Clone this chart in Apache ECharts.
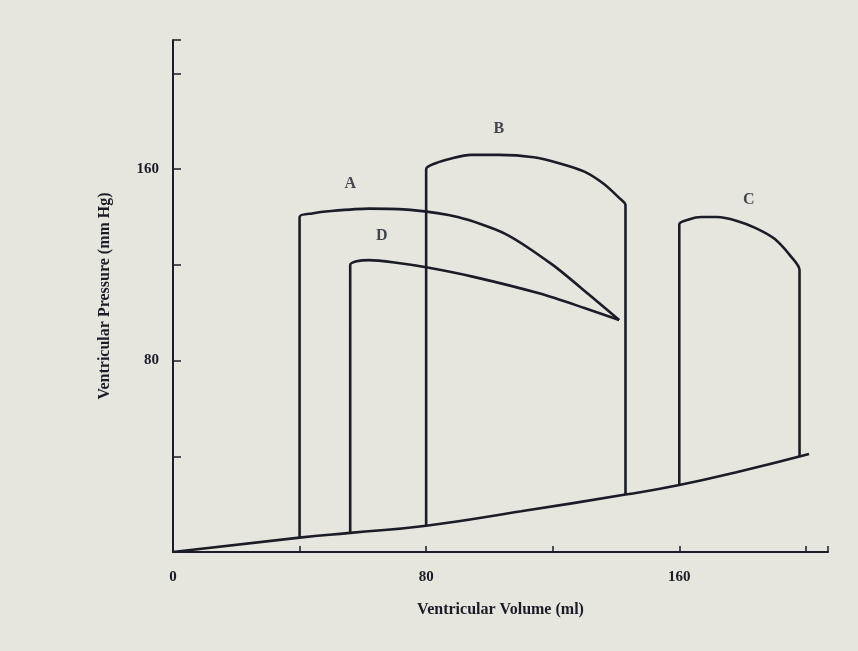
<!DOCTYPE html>
<html><head><meta charset="utf-8">
<script src="https://cdn.jsdelivr.net/npm/echarts@6/dist/echarts.min.js"></script>
<style>html,body{margin:0;background:#e6e6df}#c{width:858px;height:651px}</style>
</head><body><div id="c"></div>
<script>
const xTicks = [0, 80, 160];
const yTicks = [80, 160];
const baseline = [[0,0],[40,6],[56,8],[80,11],[110,17],[143,24],[160,28],[180,34],[201,41]];
const loopA = [[40,6],[40,140],[44,141.5],[50,142.5],[62,143.5],[75,143],[90,140],[105,133],[120,120],[132,107],[141,97]];
const loopD = [[56,8],[56,120],[58,121.5],[62,122],[70,121],[80,119],[95,115],[116,108],[130,102],[141,97]];
const loopB = [[80,11],[80,160],[83,162.5],[88,164.5],[94,166],[103,166],[114,165],[122,162.5],[130,159],[136,154],[141,148],[143,145],[143,24]];
const loopC = [[160,28],[160,137],[163,139],[167,140],[172,140],[178,138.5],[184,135.5],[190,131],[195,124],[198,118],[198,40]];
const labels = [["A",56,154],["B",103,177],["C",182,147],["D",66,132]];
const ink = '#1c1c28';
const mk = (d, smooth) => ({type:'line', data:d, showSymbol:false, smooth:smooth, lineStyle:{color:ink, width:2.6}, silent:true});
const chart = echarts.init(document.getElementById('c'));
chart.setOption({
  backgroundColor:'#e6e6df', animation:false,
  grid:{left:173, right:30, top:40, bottom:99},
  xAxis:{type:'value', min:0, max:207, interval:40,
    name:'Ventricular Volume (ml)', nameLocation:'middle', nameGap:50,
    nameTextStyle:{fontFamily:'Liberation Serif', fontWeight:'bold', fontSize:16, color:ink},
    axisLine:{lineStyle:{color:ink, width:2}}, splitLine:{show:false},
    axisTick:{inside:true, length:6, lineStyle:{color:ink, width:1.5}},
    axisLabel:{margin:18, fontFamily:'Liberation Serif', fontWeight:'bold', fontSize:15, color:ink,
      formatter:v=>xTicks.includes(v)?String(v):''}},
  yAxis:{type:'value', min:0, max:214, interval:40,
    name:'Ventricular Pressure (mm Hg)', nameLocation:'middle', nameGap:60,
    nameTextStyle:{fontFamily:'Liberation Serif', fontWeight:'bold', fontSize:16, color:ink},
    axisLine:{show:true, lineStyle:{color:ink, width:2}}, splitLine:{show:false},
    axisTick:{show:true, inside:true, length:8, lineStyle:{color:ink, width:1.5}},
    axisLabel:{margin:14, fontFamily:'Liberation Serif', fontWeight:'bold', fontSize:15, color:ink,
      formatter:v=>yTicks.includes(v)?String(v):''}},
  series:[
    mk(baseline, true), mk(loopA, 0.25), mk(loopD, 0.25), mk(loopB, 0.25), mk(loopC, 0.25),
    {type:'scatter', data:labels.map(l=>[l[1],l[2],l[0]]), symbolSize:0, silent:true,
     label:{show:true, formatter:p=>p.value[2], fontFamily:'Liberation Serif', fontWeight:'bold', fontSize:16, color:ink}}
  ]
});
</script></body></html>
